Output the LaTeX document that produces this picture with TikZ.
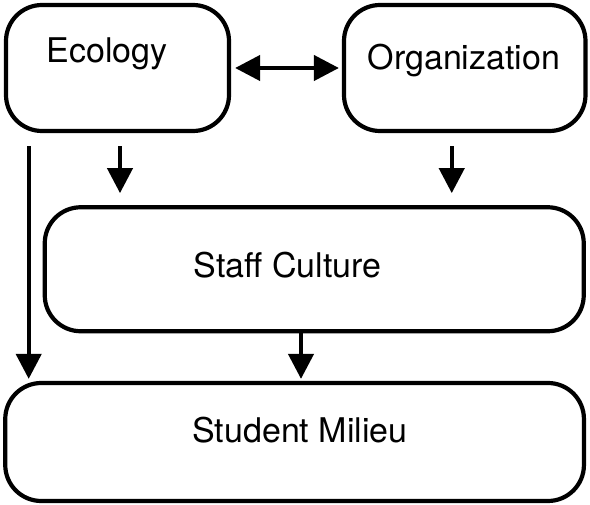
\documentclass[tikz,border=0pt]{standalone}
\usepackage{fontspec}
\setmainfont{TeX Gyre Heros}
\usetikzlibrary{arrows.meta}

\begin{document}
\begin{tikzpicture}[x=1pt,y=-1pt,>={Triangle[length=25pt,width=25pt]},line width=4.2pt,
  box/.style={draw,rounded corners=36pt,inner sep=0pt},
  every node/.style={font=\fontsize{34}{40}\selectfont}]
  \useasboundingbox (0,0) rectangle (590,505);
  % boxes
  \node[box,minimum width=223pt,minimum height=126pt] (eco) at (117.5,68) {};
  \node[box,minimum width=241.5pt,minimum height=126pt] (org) at (464.75,68) {};
  \node[box,minimum width=539pt,minimum height=124pt] (staff) at (314.25,269.25) {};
  \node[box,minimum width=578.7pt,minimum height=118pt] (student) at (294.6,442) {};
  % texts
  \node[anchor=base] (ecotxt) at (107,63) {Ecology};
  \node[anchor=base] (orgtxt) at (464,70) {Organization};
  \node[anchor=base] (stafftxt) at (287.5,278) {Staff Culture};
  \node[anchor=base] (studenttxt) at (300,443) {Student Milieu};
  % arrows
  \draw[<->,shorten <=4pt,shorten >=3pt] (eco) -- (org);
  \draw[->,shorten <=13pt,shorten >=12pt] ([xshift=2.5pt]eco.south) -- ([xshift=2.5pt]eco.south |- staff.north);
  \draw[->,shorten <=13pt,shorten >=12pt] ([xshift=-13pt]org.south) -- ([xshift=-13pt]org.south |- staff.north);
  \draw[->,shorten <=13pt,shorten >=2pt] ([xshift=-88.8pt]eco.south) -- ([xshift=-88.8pt]eco.south |- student.north);
  \draw[->,shorten >=2pt] ([xshift=-13.25pt]staff.south) -- ([xshift=-13.25pt]staff.south |- student.north);
\end{tikzpicture}
\end{document}
